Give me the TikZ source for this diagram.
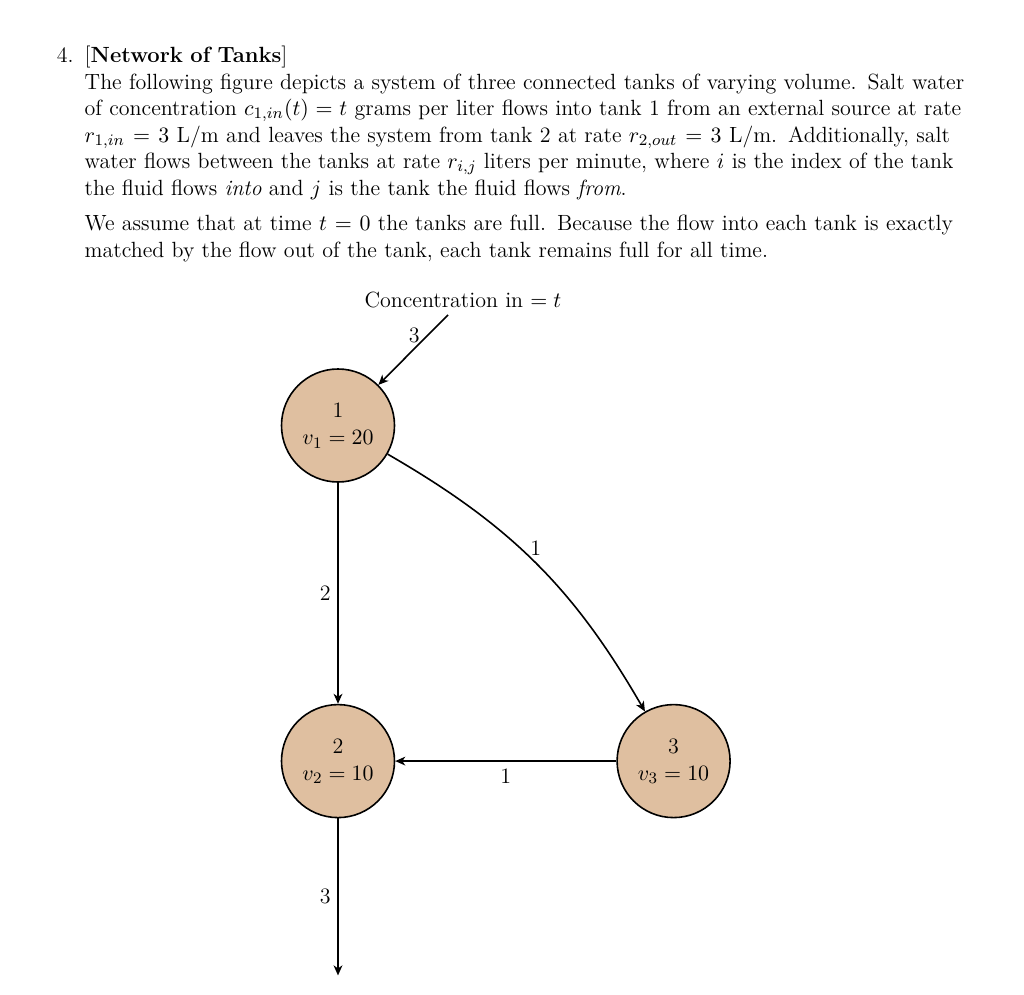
\documentclass[tikz,border=0pt]{standalone}
\usepackage{tikz}
\usetikzlibrary{positioning, arrows.meta}
\definecolor{tanktan}{RGB}{223,191,160}

\begin{document}
\begin{tikzpicture}[
  x=0.5pt, y=-0.5pt,
  font=\fontsize{11}{13.6}\selectfont,
  node distance=110.5pt,
  tank/.style={circle, draw, thick, fill=tanktan, minimum size=56.5pt, inner sep=0pt, align=center},
  flow/.style={-{Stealth[length=5pt, width=4.4pt, inset=1.5pt]}, thick},
  prose/.style={text width=440.5pt, inner sep=0pt, font=\fontsize{11}{13.25}\selectfont}
]
\useasboundingbox (0,0) rectangle (1024,995);

% problem statement
\node[anchor=base west, inner sep=0pt] (num) at (56.5,62.7) {4.};
\node[prose, anchor=base west] (task) at (84.3,62.7) {[\textbf{Network of Tanks}]\\
The following figure depicts a system of three connected tanks of varying volume. Salt water of concentration $c_{1,in}(t) = t$ grams per liter flows into tank 1 from an external source at rate $r_{1,in} = 3$ L/m and leaves the system from tank 2 at rate $r_{2,out} = 3$ L/m. Additionally, salt water flows between the tanks at rate $r_{i,j}$ liters per minute, where $i$ is the index of the tank the fluid flows \emph{into} and $j$ is the tank the fluid flows \emph{from}.\par
\vspace{4.45pt}\noindent We assume that at time $t = 0$ the tanks are full. Because the flow into each tank is exactly matched by the flow out of the tank, each tank remains full for all time.};

% tanks
\node[anchor=base] (conc) at (463,307.3) {Concentration in $= t$};
\node[tank] (t1) at (338,425.5) {1\\$v_1 = 20$};
\node[tank, below=of t1] (t2) {2\\$v_2 = 10$};
\node[tank, right=of t2] (t3) {3\\$v_3 = 10$};
\coordinate[below=78.5pt of t2] (drain);

% flows
\draw[flow] (conc) -- node[pos=0.3, left] {3} (t1);
\draw[flow] (t1) -- node[left] {2} (t2);
\draw[flow] (t1) to[bend left=15] node[above] {1} (t3);
\draw[flow] (t3) -- node[below] {1} (t2);
\draw[flow] (t2) -- node[left] {3} (drain);

\end{tikzpicture}
\end{document}
